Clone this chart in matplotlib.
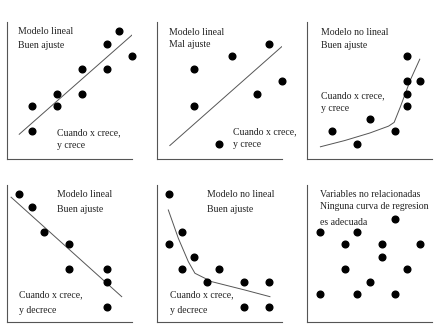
import matplotlib
matplotlib.use("Agg")
import matplotlib.pyplot as plt

plt.rcParams['font.family'] = ['Liberation Serif', 'DejaVu Serif']

# Grid units: one step = spacing between dot positions
# Panel 1: linear, good fit, increasing
p1_x = [9, 8, 10, 6, 8, 4, 6, 2, 4, 2]
p1_y = [10.25, 9.25, 8.25, 7.25, 7.25, 5.25, 5.25, 4.25, 4.25, 2.25]
p1_fit_x = [1.0, 10.1]
p1_fit_y = [2.0, 10.0]

# Panel 2: linear, bad fit
p2_x = [9, 6, 3, 10, 8, 3, 5]
p2_y = [9.25, 8.25, 7.25, 6.25, 5.25, 4.25, 1.25]
p2_fit_x = [1.05, 10.0]
p2_fit_y = [1.1, 9.0]

# Panel 3: non linear, good fit, increasing
p3_x = [8, 8, 9, 8, 8, 5, 2, 7, 4]
p3_y = [8.25, 6.25, 6.25, 5.25, 4.25, 3.25, 2.25, 2.25, 1.25]
p3_fit_x = [1.05, 3.0, 5.0, 6.5, 6.95, 7.45, 8.25, 9.0]
p3_fit_y = [1.0, 1.5, 2.1, 2.65, 2.95, 4.2, 6.35, 8.0]

# Panel 4: linear, good fit, decreasing
p4_x = [1, 2, 3, 5, 5, 8, 8, 8]
p4_y = [10.25, 9.25, 7.25, 6.25, 4.25, 4.25, 3.25, 1.25]
p4_fit_x = [0.35, 9.2]
p4_fit_y = [10.0, 2.05]

# Panel 5: non linear, good fit, decreasing
p5_x = [1, 2, 1, 3, 2, 5, 4, 7, 9, 7, 9]
p5_y = [10.25, 7.25, 6.25, 5.25, 4.25, 4.25, 3.25, 3.25, 3.25, 1.25, 1.25]
p5_fit_x = [0.93, 1.73, 2.53, 3.06, 4.4, 7.06, 9.06]
p5_fit_y = [8.98, 6.72, 4.85, 3.92, 3.25, 2.58, 2.05]

# Panel 6: unrelated variables
p6_x = [7, 1, 4, 3, 6, 9, 6, 3, 8, 5, 1, 4, 7]
p6_y = [8.25, 7.25, 7.25, 6.25, 6.25, 6.25, 5.25, 4.25, 4.25, 3.25, 2.25, 2.25, 2.25]

labels = [
    [("Modelo lineal", 0.93, 10.2), ("Buen ajuste", 0.93, 9.06),
     ("Cuando x crece,", 4.0, 2.08), ("y crece", 4.0, 1.09)],
    [("Modelo lineal", 0.98, 10.16), ("Mal ajuste", 0.98, 9.15),
     ("Cuando x crece,", 6.13, 2.18), ("y crece", 6.13, 1.17)],
    [("Modelo no lineal", 1.07, 10.16), ("Buen ajuste", 1.07, 9.06),
     ("Cuando x crece,", 1.07, 5.09), ("y crece", 1.07, 4.08)],
    [("Modelo lineal", 4.0, 10.24), ("Buen ajuste", 4.0, 9.04),
     ("Cuando x crece,", 1.0, 2.18), ("y decrece", 1.0, 0.93)],
    [("Modelo no lineal", 4.05, 10.24), ("Buen ajuste", 4.05, 9.04),
     ("Cuando x crece,", 1.06, 2.18), ("y decrece", 1.06, 0.93)],
    [("Variables no relacionadas", 1.02, 10.24),
     ("Ninguna curva de regresion", 1.02, 9.26), ("es adecuada", 1.02, 8.0)],
]

points = [(p1_x, p1_y), (p2_x, p2_y), (p3_x, p3_y),
          (p4_x, p4_y), (p5_x, p5_y), (p6_x, p6_y)]
fits = [(p1_fit_x, p1_fit_y), (p2_fit_x, p2_fit_y), (p3_fit_x, p3_fit_y),
        (p4_fit_x, p4_fit_y), (p5_fit_x, p5_fit_y), None]

fig = plt.figure(figsize=(4.42, 3.30), dpi=100)
lefts = [0.0152, 0.3545, 0.6952]
bottoms = [0.5173, 0.0233]
w, h = 0.2828, 0.417

for i in range(6):
    ax = fig.add_axes([lefts[i % 3], bottoms[i // 3], w, h])
    ax.set_xlim(0, 10)
    ax.set_ylim(0, 11)
    for s in ['top', 'right']:
        ax.spines[s].set_visible(False)
    for s in ['left', 'bottom']:
        ax.spines[s].set_color('#555555')
        ax.spines[s].set_linewidth(0.8)
    ax.set_xticks([])
    ax.set_yticks([])
    if fits[i] is not None:
        ax.plot(fits[i][0], fits[i][1], color='#555555', linewidth=0.7)
    ax.plot(points[i][0], points[i][1], 'o', color='black', markersize=4.8,
            clip_on=False)
    for txt, tx, ty in labels[i]:
        ax.text(tx, ty, txt, fontsize=7, color='#222222', va='center',
                ha='left', clip_on=False)

fig.savefig("out.png", dpi=100)
